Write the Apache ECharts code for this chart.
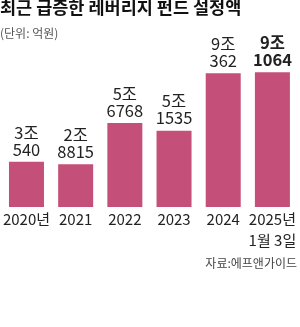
<!DOCTYPE html>
<html><head><meta charset="utf-8">
<script src="https://cdn.jsdelivr.net/npm/echarts@6/dist/echarts.min.js"></script>
<style>html,body{margin:0;padding:0;background:#fff}#c{width:300px;height:327px}</style>
</head><body><div id="c"></div>
<script>
const categories = ['2020년', '2021', '2022', '2023', '2024', '2025년\n1월 3일'];
const values = [30540, 28815, 56768, 51535, 90362, 91064]; // 억원
const title = '최근 급증한 레버리지 펀드 설정액';
const unit = '(단위: 억원)';
const source = '자료:에프앤가이드';

const FONT = '"Noto Sans CJK KR", sans-serif';
const chart = echarts.init(document.getElementById('c'));
const fmt = v => Math.floor(v / 10000) + '조\n' + (v % 10000);
chart.setOption({
  animation: false,
  graphic: [
    {type: 'text', left: 0, top: -1, style: {text: title, font: 'bold 17.5px ' + FONT, fill: '#111'}},
    {type: 'text', left: 0, top: 27, style: {text: unit, font: '12px ' + FONT, fill: '#555'}},
    {type: 'text', right: 3, top: 257, style: {text: source, font: '12px ' + FONT, fill: '#444'}}
  ],
  grid: {left: 1, width: 296, top: 59, height: 148},
  xAxis: {
    type: 'category', data: categories,
    axisLine: {show: false}, axisTick: {show: false},
    axisLabel: {fontFamily: FONT, fontSize: 15, color: '#222', margin: 2, lineHeight: 21, interval: 0}
  },
  yAxis: {type: 'value', min: 0, max: 100000, show: false, splitLine: {show: false}},
  series: [{
    type: 'bar', data: values.map((v, i) => ({
      value: v,
      label: i === values.length - 1 ? {fontWeight: 'bold'} : {}
    })),
    barWidth: 35,
    itemStyle: {color: '#c44f78'},
    label: {show: true, position: 'top', distance: 4, formatter: p => fmt(p.value),
      fontFamily: FONT, fontSize: 16.5, lineHeight: 17, color: '#222'}
  }]
});
</script></body></html>
